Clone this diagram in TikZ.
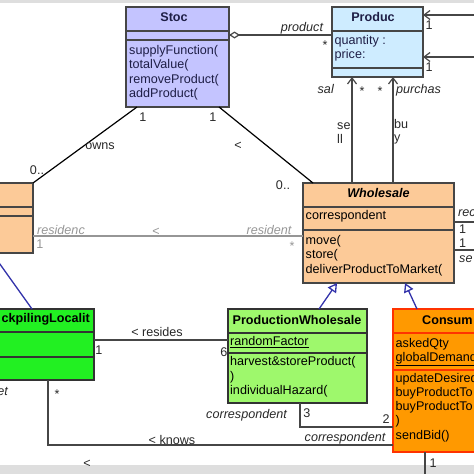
\documentclass[tikz,border=0pt]{standalone}
\usepackage{fontspec}
\setmainfont{Liberation Sans}
\usetikzlibrary{arrows.meta,calc}
\newcommand\fsz{\fontsize{12.6}{14}\selectfont}
\definecolor{bandc}{RGB}{222,222,222}
\definecolor{boxc}{RGB}{70,70,70}
\definecolor{stocc}{RGB}{196,196,255}
\definecolor{producc}{RGB}{206,236,255}
\definecolor{peachc}{RGB}{252,202,152}
\definecolor{pwc}{RGB}{158,248,108}
\definecolor{stkc}{RGB}{34,240,34}
\definecolor{consc}{RGB}{255,153,0}
\definecolor{consb}{RGB}{255,51,0}
\definecolor{navyt}{RGB}{30,30,70}
\definecolor{labc}{RGB}{40,40,40}
\definecolor{grayl}{RGB}{150,150,150}
\definecolor{genc}{RGB}{50,50,170}
\tikzset{
  box/.style={draw=boxc, line width=1.2pt, anchor=north west, inner sep=0pt, outer sep=0pt},
  div/.style={draw=boxc, line width=1.2pt},
  txt/.style={anchor=base west, inner sep=0pt, font=\fsz},
  ttl/.style={anchor=base, inner sep=0pt, font=\fsz\bfseries},
  lbl/.style={anchor=base, inner sep=0pt, font=\fsz, text=labc},
  lbli/.style={anchor=base, inner sep=0pt, font=\fsz\itshape, text=labc},
  assoc/.style={draw=boxc, line width=1.2pt},
  navarrow/.style={assoc, -{Straight Barb[length=6pt,width=9pt]}},
  gen/.style={draw=genc, line width=1.3pt, -{Triangle[open,length=9pt,width=10pt,fill=white]}},
}
\begin{document}
\begin{tikzpicture}[x=1pt,y=-1pt]
\useasboundingbox (0,0) rectangle (474,474);
\fill[bandc] (0,0) rectangle (474,2.5);
\fill[bandc] (0,465) rectangle (474,474);

% ---------- Stoc ----------
\node[box, fill=stocc, minimum width=103pt, minimum height=100pt] (stoc) at (126,7) {};
\draw[div] ($(stoc.north west)+(0,24)$) -- ($(stoc.north east)+(0,24)$);
\draw[div] ($(stoc.north west)+(0,33)$) -- ($(stoc.north east)+(0,33)$);
\node[ttl, text=navyt] (stocT) at (174,21) {Stoc};
\node[txt, text=navyt] (stocM1) at (129,54.5) {supplyFunction(};
\node[txt, text=navyt] (stocM2) at (129,68.8) {totalValue(};
\node[txt, text=navyt] (stocM3) at (129,83.1) {removeProduct(};
\node[txt, text=navyt] (stocM4) at (129,97.4) {addProduct(};

% ---------- Produc ----------
\node[box, fill=producc, minimum width=91pt, minimum height=70pt] (produc) at (332,7) {};
\draw[div] ($(produc.north west)+(0,24)$) -- ($(produc.north east)+(0,24)$);
\draw[div] ($(produc.north west)+(0,61)$) -- ($(produc.north east)+(0,61)$);
\node[ttl, text=navyt] (producT) at (373,21) {Produc};
\node[txt, text=navyt] (producA1) at (334.5,44.3) {quantity :};
\node[txt, text=navyt] (producA2) at (334.5,58.3) {price:};

% ---------- Wholesale ----------
\node[box, fill=peachc, minimum width=151pt, minimum height=100pt] (whole) at (303,183) {};
\draw[div] ($(whole.north west)+(0,24)$) -- ($(whole.north east)+(0,24)$);
\draw[div] ($(whole.north west)+(0,47)$) -- ($(whole.north east)+(0,47)$);
\node[ttl, font=\fsz\bfseries\itshape] (wholeT) at (378.5,197) {Wholesale};
\node[txt] (wholeA1) at (305.5,219.3) {correspondent};
\node[txt] (wholeM1) at (305.5,244) {move(};
\node[txt] (wholeM2) at (305.5,258.5) {store(};
\node[txt] (wholeM3) at (305.5,273) {deliverProductToMarket(};

% ---------- left peach box (cut off) ----------
\node[box, fill=peachc, minimum width=39pt, minimum height=70pt] (leftbox) at (-6,183) {};
\draw[div] ($(leftbox.north west)+(0,24)$) -- ($(leftbox.north east)+(0,24)$);
\draw[div] ($(leftbox.north west)+(0,33)$) -- ($(leftbox.north east)+(0,33)$);

% ---------- ProductionWholesale ----------
\node[box, fill=pwc, draw=black!80, minimum width=139pt, minimum height=94pt] (prodw) at (228,309) {};
\draw[div, draw=black!80] ($(prodw.north west)+(0,24)$) -- ($(prodw.north east)+(0,24)$);
\draw[div, draw=black!80] ($(prodw.north west)+(0,44)$) -- ($(prodw.north east)+(0,44)$);
\node[ttl] (prodwT) at (297,324) {ProductionWholesale};
\node[txt] (prodwA1) at (230,345.7) {\underline{randomFactor}};
\node[txt] (prodwM1) at (230,365.7) {harvest\&storeProduct(};
\node[txt] (prodwM2) at (230,380.2) {)};
\node[txt] (prodwM3) at (230,394.7) {individualHazard(};

% ---------- Consum ----------
\node[box, fill=consc, draw=consb, line width=1.5pt, minimum width=90pt, minimum height=143pt] (consum) at (393,309) {};
\draw[div, draw=consb, line width=1.5pt] ($(consum.north west)+(0,24)$) -- ($(consum.north east)+(0,24)$);
\draw[div, draw=consb, line width=1.5pt] ($(consum.north west)+(0,61)$) -- ($(consum.north east)+(0,61)$);
\node[ttl, anchor=base west] (consT) at (422,324) {Consum};
\node[txt] (consA1) at (395.5,347) {askedQty};
\node[txt] (consA2) at (395.5,361) {\underline{globalDemand}};
\node[txt] (consM1) at (395.5,382) {updateDesired};
\node[txt] (consM2) at (395.5,396.3) {buyProductTo};
\node[txt] (consM3) at (395.5,410.6) {buyProductTo};
\node[txt] (consM4) at (395.5,424.9) {)};
\node[txt] (consM5) at (395.5,439.2) {sendBid()};

% ---------- StockpilingLocalit ----------
\node[box, fill=stkc, draw=black!80, minimum width=100pt, minimum height=71pt] (stockp) at (-6,309) {};
\draw[div, draw=black!80] ($(stockp.north west)+(0,23)$) -- ($(stockp.north east)+(0,23)$);
\draw[div, draw=black!80] ($(stockp.north west)+(0,48)$) -- ($(stockp.north east)+(0,48)$);
\node[ttl, anchor=base east] (stockpT) at (90,322) {ckpilingLocalit};

% ---------- free ends ----------
\coordinate (inA) at (480,15);
\coordinate (inB) at (480,57);
\coordinate (outR1) at (480,222);
\coordinate (outR2) at (480,250);
\coordinate (offL) at (-3,260);
\coordinate (offB) at (425,480);

% ---------- connectors ----------
% aggregation Stoc <>-- Produc
\draw[assoc, -{Diamond[open,length=11pt,width=7pt,fill=white]}]
  ($(produc.north west)+(0,28)$) -- ($(stoc.north east)+(0,28)$);
\node[lbli] (lProduct) at (302,31) {product};
\node[lbl] (lStarP) at (325,49) {*};

% arrows from the right into Produc
\draw[navarrow] (inA) -- ($(produc.north east)+(0,8)$);
\draw[navarrow] (inB) -- ($(produc.north east)+(0,50)$);
\node[lbl] (lOneA) at (429,29.5) {1};
\node[lbl] (lOneB) at (429,71.5) {1};

% Wholesale -> Produc (sell / buy)
\draw[navarrow] ($(whole.north west)+(49,0)$) -- ($(produc.south west)+(20,0)$);
\draw[navarrow] ($(whole.north west)+(90,0)$) -- ($(produc.south west)+(61,0)$);
\node[lbli, anchor=base east] (lSal) at (334,93.5) {sal};
\node[lbl] (lStarS1) at (362,95) {*};
\node[lbl] (lStarS2) at (380,95) {*};
\node[lbli, anchor=base west] (lPurch) at (396,93.5) {purchas};
\node[lbl, anchor=base west] (lSe) at (337,129) {se};
\node[lbl, anchor=base west] (lLl) at (337,143) {ll};
\node[lbl, anchor=base west] (lBu) at (394,128) {bu};
\node[lbl, anchor=base west] (lY) at (394,141) {y};

% Stoc -- left box (owns)
\draw[draw=black, line width=1.2pt] ($(stoc.south west)+(11,0)$) -- (leftbox.north east);
\node[lbl] (lOne1) at (143,121.5) {1};
\node[lbl] (lOwns) at (100,149) {owns};
\node[lbl] (lZero1) at (37,174) {0..};

% Stoc -- Wholesale
\draw[draw=black, line width=1.2pt] ($(stoc.south east)+(-10,0)$) -- ($(whole.north west)+(10,0)$);
\node[lbl] (lOne2) at (213,121.5) {1};
\node[lbl] (lLt1) at (238,149) {<};
\node[lbl] (lZero2) at (283,189) {0..};

% residence (gray)
\draw[draw=grayl, line width=1.3pt] ($(leftbox.north east)+(0,53)$) -- ($(whole.north west)+(0,53)$);
\node[lbli, text=grayl] (lResidenc) at (61,234.5) {residenc};
\node[lbl, text=grayl] (lOneR) at (40,248) {1};
\node[lbl, text=grayl] (lLtR) at (156,235) {<};
\node[lbli, text=grayl] (lResident) at (269,234.5) {resident};
\node[lbl, text=grayl] (lStarR) at (292,250) {*};

% Wholesale -> right
\draw[assoc] ($(whole.north east)+(0,39)$) -- (outR1);
\draw[assoc] ($(whole.north east)+(0,67)$) -- (outR2);
\node[lbli, anchor=base west] (lRec) at (458,216) {rec};
\node[lbl, anchor=base west] (lOneW1) at (459,233) {1};
\node[lbl, anchor=base west] (lOneW2) at (459,247) {1};
\node[lbli, anchor=base west] (lSe2) at (459,262) {se};

% generalizations
\draw[gen] ($(prodw.north west)+(91,0)$) -- ($(whole.south west)+(34,0)$);
\draw[gen] ($(consum.north west)+(24,0)$) -- ($(whole.south west)+(102,0)$);

% left blue line
\draw[draw=genc, line width=1.3pt] ($(stockp.north east)+(-62,0)$) -- (offL);

% resides
\draw[assoc] ($(stockp.north east)+(0,31)$) -- ($(prodw.north west)+(0,31)$);
\node[lbl] (lResides) at (157,336) {< resides};
\node[lbl] (lOneS) at (99,354) {1};
\node[lbl] (lSix) at (224,356.5) {6};

% knows
\draw[assoc] ($(stockp.south west)+(54,0)$) |- ($(consum.north west)+(0,136)$);
\node[lbl] (lStarK) at (57,398) {*};
\node[lbli, anchor=base east] (lEt) at (8,395) {et};
\node[lbl] (lKnows) at (172,444) {< knows};

% correspondent (self association)
\draw[assoc] ($(prodw.south west)+(72,0)$) |- ($(consum.north west)+(0,118)$);
\node[lbl] (lThree) at (307,417.5) {3};
\node[lbl] (lTwo) at (386,423.5) {2};
\node[lbli] (lCorr1) at (345,441) {correspondent};
\node[lbli, anchor=base east] (lCorr2) at (287,418) {correspondent};

% Consum bottom
\draw[assoc] ($(consum.south west)+(32,0)$) -- (offB);
\node[lbl] (lOneC) at (433,467) {1};
\node[lbl] (lLtB) at (87,467) {<};
\end{tikzpicture}
\end{document}
